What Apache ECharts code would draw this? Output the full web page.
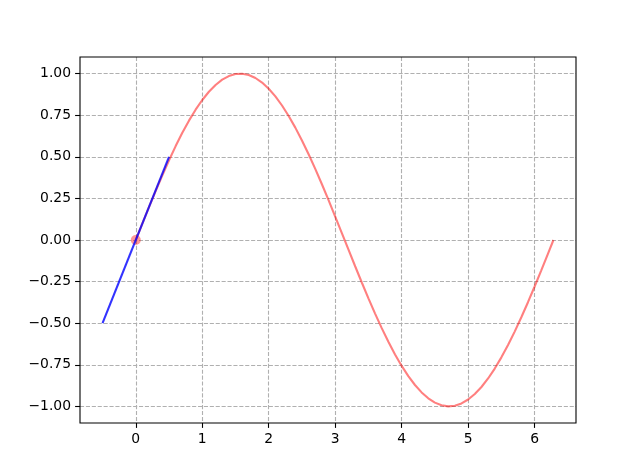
<!DOCTYPE html>
<html>
<head>
<meta charset="utf-8">
<script src="https://cdn.jsdelivr.net/npm/echarts@6/dist/echarts.min.js"></script>
<style>html,body{margin:0;padding:0;background:#fff;}#c{width:640px;height:476px;}</style>
</head>
<body>
<div id="c"></div>
<script>
// Sine curve samples
const sineX = [0,0.1,0.2,0.3,0.4,0.5,0.6,0.7,0.8,0.9,1.0,1.1,1.2,1.3,1.4,1.5,1.6,1.7,1.8,1.9,2.0,2.1,2.2,2.3,2.4,2.5,2.6,2.7,2.8,2.9,3.0,3.1,3.2,3.3,3.4,3.5,3.6,3.7,3.8,3.9,4.0,4.1,4.2,4.3,4.4,4.5,4.6,4.7,4.8,4.9,5.0,5.1,5.2,5.3,5.4,5.5,5.6,5.7,5.8,5.9,6.0,6.1,6.2,6.283];
const sineY = [0,0.0998,0.1987,0.2955,0.3894,0.4794,0.5646,0.6442,0.7174,0.7833,0.8415,0.8912,0.9320,0.9636,0.9854,0.9975,0.9996,0.9917,0.9738,0.9463,0.9093,0.8632,0.8085,0.7457,0.6755,0.5985,0.5155,0.4274,0.3350,0.2392,0.1411,0.0416,-0.0584,-0.1577,-0.2555,-0.3508,-0.4425,-0.5298,-0.6119,-0.6878,-0.7568,-0.8183,-0.8716,-0.9162,-0.9516,-0.9775,-0.9937,-0.9999,-0.9962,-0.9825,-0.9589,-0.9258,-0.8835,-0.8323,-0.7728,-0.7055,-0.6313,-0.5507,-0.4646,-0.3739,-0.2794,-0.1822,-0.0831,0];
// Tangent line
const tangentX = [-0.5, 0.5];
const tangentY = [-0.5, 0.5];
// Point
const pointX = [0];
const pointY = [0];
// Tick labels
const xTicks = [0,1,2,3,4,5,6];
const yTicks = [-1,-0.75,-0.5,-0.25,0,0.25,0.5,0.75,1];

const xMin = -0.8392, xMax = 6.6224;
const yMin = -1.1, yMax = 1.1;

const zip = (a, b) => a.map((v, i) => [v, b[i]]);
const font = {fontFamily: 'DejaVu Sans', fontSize: 13.9, color: '#000'};
const grid = {type: [4.1, 1.8], color: '#b0b0b0', width: 1.1};

const chart = echarts.init(document.getElementById('c'), null, {renderer: 'canvas'});
chart.setOption({
  animation: false,
  backgroundColor: '#fff',
  grid: {left: 80, right: 64, top: 57, bottom: 53, show: true, borderColor: '#000', borderWidth: 1.1, backgroundColor: 'transparent', z: 10},
  xAxis: {
    type: 'value', min: xMin, max: xMax,
    axisLine: {show: false, onZero: false},
    axisTick: {show: true, customValues: xTicks, length: 4.9, lineStyle: {color: '#000', width: 1.1}},
    axisLabel: Object.assign({customValues: xTicks, margin: 9.5, formatter: v => String(v)}, font),
    splitLine: {show: true, lineStyle: grid}
  },
  yAxis: {
    type: 'value', min: yMin, max: yMax,
    axisLine: {show: false, onZero: false},
    axisTick: {show: true, customValues: yTicks, length: 4.9, lineStyle: {color: '#000', width: 1.1}},
    axisLabel: Object.assign({customValues: yTicks, margin: 9, formatter: v => v.toFixed(2).replace('-', '\u2212')}, font),
    splitLine: {show: true, lineStyle: grid}
  },
  series: [
    {type: 'line', data: zip(sineX, sineY), showSymbol: false, lineStyle: {color: 'rgba(255,0,0,0.5)', width: 2.1}, z: 2},
    {type: 'scatter', data: zip(pointX, pointY), symbolSize: 10, itemStyle: {color: 'rgba(255,0,0,0.5)'}, z: 3},
    {type: 'line', data: zip(tangentX, tangentY), showSymbol: false, lineStyle: {color: 'rgba(0,0,255,0.8)', width: 2.1}, z: 4}
  ]
});
</script>
</body>
</html>
